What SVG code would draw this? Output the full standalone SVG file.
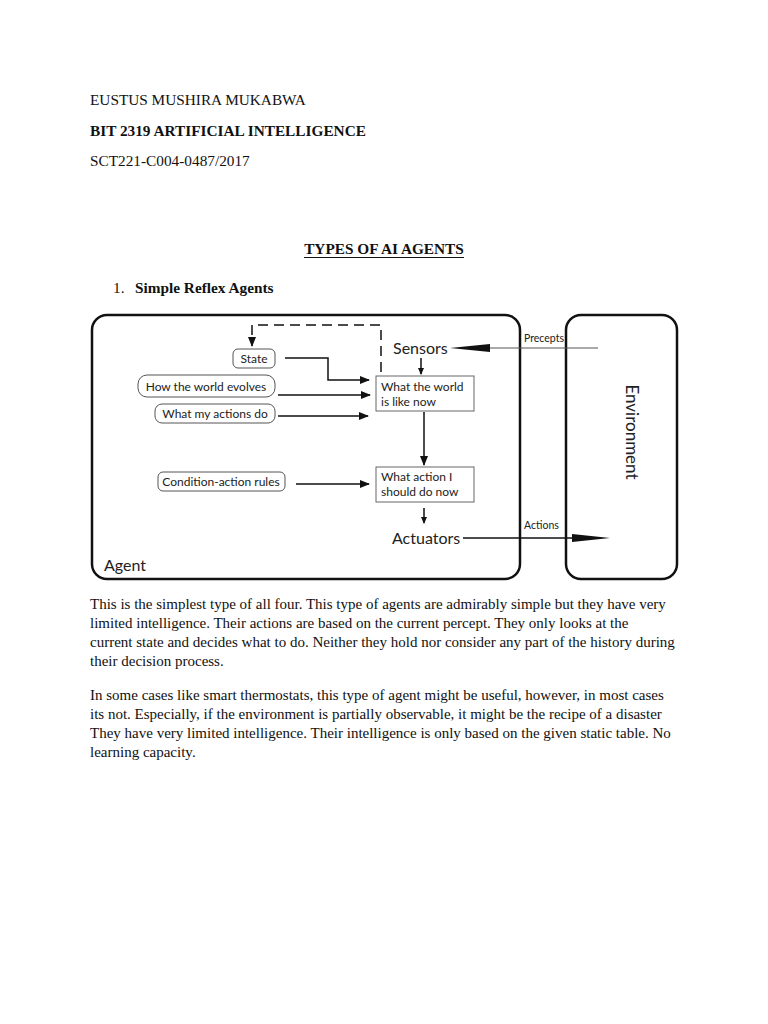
<svg xmlns="http://www.w3.org/2000/svg" width="768" height="1024" viewBox="0 0 768 1024">
<style>
.doc{font-family:"Liberation Serif","Times New Roman",serif;font-size:15px;fill:#111}
.h{font-size:15.3px}
.b{font-weight:bold}
.d{font-family:Lato,"Open Sans",sans-serif;fill:#222}
.s{font-size:12px}
.big{font-size:16px}
.tiny{font-size:10.5px}
.frame{fill:none;stroke:#111;stroke-width:2.5}
.pill{fill:#fff;stroke:#555;stroke-width:1}
.box{fill:#fff;stroke:#666;stroke-width:1}
.ln{fill:none;stroke:#111;stroke-width:1.5}
.thin{fill:none;stroke:#555;stroke-width:1}
</style>
<defs>
<marker id="ah" markerWidth="10" markerHeight="8" refX="9" refY="4" orient="auto" markerUnits="userSpaceOnUse">
<path d="M0,0 L10,4 L0,8 z" fill="#111"/>
</marker>
<marker id="ahs" markerWidth="7" markerHeight="6" refX="6" refY="3" orient="auto" markerUnits="userSpaceOnUse">
<path d="M0,0 L7,3 L0,6 z" fill="#111"/>
</marker>
</defs>
<rect width="768" height="1024" fill="#fff"/>

<text class="doc h" x="90" y="105">EUSTUS MUSHIRA MUKABWA</text>
<text class="doc h b" x="90" y="136">BIT 2319 ARTIFICIAL INTELLIGENCE</text>
<text class="doc h" x="90" y="166">SCT221-C004-0487/2017</text>
<text class="doc h b" x="384" y="254" text-anchor="middle">TYPES OF AI AGENTS</text>
<line x1="304" y1="257.5" x2="464" y2="257.5" stroke="#111" stroke-width="1"/>
<text class="doc h" x="113" y="293">1.</text>
<text class="doc h b" x="135" y="293">Simple Reflex Agents</text>

<g id="agent">
<rect class="frame" x="92" y="315" width="428" height="264" rx="15"/>
<text class="d big" x="104" y="571">Agent</text>
</g>
<g id="environment">
<rect class="frame" x="566" y="315" width="111" height="264" rx="15"/>
<text class="d" font-size="17" transform="translate(626,432) rotate(90)" text-anchor="middle">Environment</text>
</g>
<g id="sensors"><text class="d big" x="393" y="354">Sensors</text></g>
<g id="actuators"><text class="d big" x="392" y="544">Actuators</text></g>
<g id="state"><rect class="pill" x="233" y="349" width="42" height="19" rx="5"/><text class="d s" x="254" y="362.5" text-anchor="middle">State</text></g>
<g id="evolves"><rect class="pill" x="138" y="375" width="137" height="22" rx="9"/><text class="d s" x="206" y="390.5" text-anchor="middle">How the world evolves</text></g>
<g id="myactions"><rect class="pill" x="155" y="404" width="120" height="19" rx="7"/><text class="d s" x="215" y="418" text-anchor="middle">What my actions do</text></g>
<g id="rules"><rect class="pill" x="158" y="472" width="127" height="19" rx="5"/><text class="d s" x="221" y="486" text-anchor="middle">Condition-action rules</text></g>
<g id="world"><rect class="box" x="376" y="376" width="98" height="35"/><text class="d s" x="381" y="391">What the world</text><text class="d s" x="381" y="406">is like now</text></g>
<g id="action"><rect class="box" x="376" y="467" width="98" height="35"/><text class="d s" x="381" y="481">What action I</text><text class="d s" x="381" y="496">should do now</text></g>

<g id="connectors">
<path class="ln" d="M381,372 V325 H252 V346" stroke-dasharray="10,6" marker-end="url(#ah)"/>
<path class="ln" d="M285,358 H328 V380 H369" marker-end="url(#ah)"/>
<line class="ln" x1="278" y1="395" x2="370" y2="395" marker-end="url(#ah)"/>
<line class="ln" x1="278" y1="416" x2="368" y2="416" marker-end="url(#ah)"/>
<line class="ln" x1="296" y1="484" x2="369" y2="484" marker-end="url(#ah)"/>
<line class="ln" x1="421" y1="358" x2="421" y2="374" marker-end="url(#ahs)"/>
<line class="ln" x1="424" y1="412" x2="424" y2="465" marker-end="url(#ah)"/>
<line class="ln" x1="424" y1="508" x2="424" y2="523" marker-end="url(#ahs)"/>
<line class="thin" x1="598" y1="348" x2="490" y2="348"/>
<path d="M490,344 L450,348 L490,352 z" fill="#111"/>
<text class="d tiny" x="524" y="342">Precepts</text>
<line class="ln" x1="463" y1="538" x2="572" y2="538"/>
<path d="M572,534 L610,538 L572,542 z" fill="#111"/>
<text class="d tiny" x="524" y="529">Actions</text>
</g>

<text class="doc" x="90" y="609">This is the simplest type of all four. This type of agents are admirably simple but they have very</text>
<text class="doc" x="90" y="628">limited intelligence. Their actions are based on the current percept. They only looks at the</text>
<text class="doc" x="90" y="647">current state and decides what to do. Neither they hold nor consider any part of the history during</text>
<text class="doc" x="90" y="666">their decision process.</text>
<text class="doc" x="90" y="700">In some cases like smart thermostats, this type of agent might be useful, however, in most cases</text>
<text class="doc" x="90" y="719">its not. Especially, if the environment is partially observable, it might be the recipe of a disaster</text>
<text class="doc" x="90" y="738">They have very limited intelligence. Their intelligence is only based on the given static table. No</text>
<text class="doc" x="90" y="757">learning capacity.</text>
</svg>
